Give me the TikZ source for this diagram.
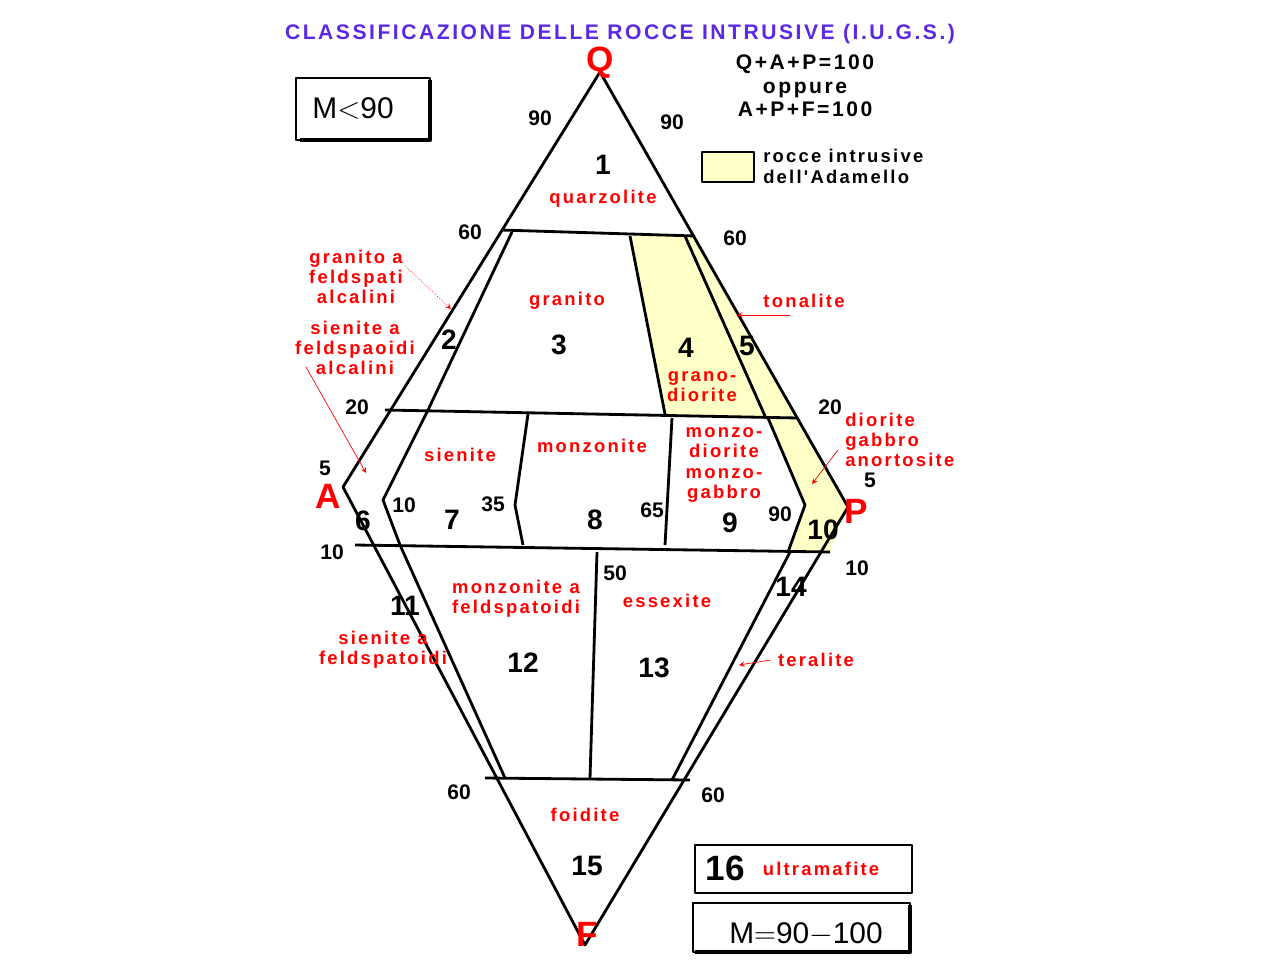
\documentclass[tikz,border=0pt]{standalone}
\usepackage{fontspec}
\setmainfont{Liberation Sans}
\newfontfamily\largo[LetterSpace=12]{Liberation Sans}
\definecolor{giallo}{RGB}{255,255,200}
\definecolor{titolo}{RGB}{90,40,230}
\tikzset{
  lab/.style={text=red,font=\largo\bfseries\fontsize{10.5}{11.5}\selectfont,align=center},
  num/.style={font=\bfseries\fontsize{16}{18}\selectfont},
  tick/.style={font=\bfseries\fontsize{12}{14}\selectfont},
  vtx/.style={text=red,font=\bfseries\fontsize{20}{22}\selectfont},
  freccia/.style={->,red,thin,>=stealth}
}
\begin{document}
\begin{tikzpicture}[x=0.02cm,y=-0.02cm,line width=1.6pt,line join=round]
\useasboundingbox (0,0) rectangle (1280,960);

% vertici
\coordinate (Q) at (600,72);
\coordinate (A) at (343,487);
\coordinate (P) at (848,507);
\coordinate (F) at (585,945);

% campi gialli
\fill[giallo] (630,236)--(695,236)--(798,418)--(665,414)--cycle;
\fill[giallo] (768,418)--(798,418)--(848,505)--(830,552)--(788,552)--(805,505)--cycle;

% contorno
\draw (Q)--(A)--(F)--(P)--cycle;

% linee interne
\draw (501,230)--(695,236);
\draw (512,232)--(428,410)--(383,500)--(400,545)--(505,778);
\draw (630,236)--(665,414);
\draw (685,236)--(765,416);
\draw (385,410)--(798,418);
\draw (528,414)--(515,505)--(523,545);
\draw (672,418)--(665,545);
\draw (768,418)--(805,505)--(788,552);
\draw (355,545)--(830,552);
\draw (597,552)--(590,778);
\draw (485,778)--(690,780);
\draw (790,552)--(672,780);

% titolo
\node[text=titolo,font=\largo\bfseries\fontsize{12}{14}\selectfont] (tit) at (620,34)
  {CLASSIFICAZIONE DELLE ROCCE INTRUSIVE (I.U.G.S.)};

% vertici
\node[vtx] (lQ) at (600,63) {Q};
\node[vtx] (lA) at (328,496) {A};
\node[vtx] (lP) at (856,511) {P};
\node[vtx] (lF) at (587,934) {F};

% riquadri
\draw[line width=1pt] (296,78) rectangle (430,140);
\draw[line width=2.5pt] (300,140)--(430,140)--(430,80);
\node[font=\fontsize{17}{19}\selectfont] (m90) at (353,108) {M$<$90};
\draw[line width=1pt] (695,845) rectangle (912,893);
\node[font=\bfseries\fontsize{20}{22}\selectfont] (n16) at (725,868) {16};
\node[lab] (ultra) at (821,869) {ultramafite};
\draw[line width=1pt] (693,903) rectangle (910,952);
\draw[line width=2.5pt] (910,905)--(910,952)--(695,952);
\node[font=\fontsize{17}{19}\selectfont] (m100) at (806,934) {M$=$90$-$100};
\draw[line width=1pt,fill=giallo] (702,152) rectangle (754,182);
\node[font=\largo\bfseries\fontsize{10.5}{12}\selectfont,align=left,anchor=west] (leg) at (756,166)
  {rocce intrusive\\dell'Adamello};
\node[font=\largo\bfseries\fontsize{12}{13.5}\selectfont,align=center] (somma) at (805,86)
  {Q+A+P=100\\oppure\\A+P+F=100};

% valori
\foreach \t/\x/\y in {90/540/118, 90/672/122, 60/470/232, 60/735/238, 20/357/407,
  20/830/407, 5/325/468, 5/870/480, 10/404/505, 35/493/504, 65/652/510, 90/780/514,
  10/332/552, 10/857/568, 50/615/573, 60/459/792, 60/713/795}
  \node[tick] at (\x,\y) {\t};

% campi
\foreach \t/\x/\y in {1/603/165, 2/449/340, 3/559/345, 4/686/348, 5/747/346,
  6/363/521, 7/452/520, 8/595/520, 9/730/523, 10/823/530, 11/405/606, 12/523/663,
  13/654/668, 14/791/587, 15/587/866}
  \node[num] at (\x,\y) {\t};

% nomi
\node[lab] (qz) at (603,199) {quarzolite};
\node[lab] (gr) at (567,301) {granito};
\node[lab] (gd) at (702,387) {grano-\\diorite};
\node[lab] (ton) at (804,301) {tonalite};
\node[lab] (gfa) at (356,277) {granito a\\feldspati\\alcalini};
\node[lab] (sfa) at (355,348) {sienite a\\feldspaoidi\\alcalini};
\node[lab] (sie) at (460,455) {sienite};
\node[lab] (mon) at (592,446) {monzonite};
\node[lab] (md) at (724,465) {monzo-\\diorite\\monzo-\\gabbro};
\node[lab,align=left,anchor=west] (dga) at (838,440) {diorite\\gabbro\\anortosite};
\node[lab] (mfd) at (516,599) {monzonite a\\feldspatoidi};
\node[lab] (ess) at (667,601) {essexite};
\node[lab] (sfd) at (383,650) {sienite a\\feldspatoidi};
\node[lab] (ter) at (816,660) {teralite};
\node[lab] (foi) at (585,815) {foidite};

% frecce
\coordinate (c2) at (451,309);
\coordinate (c6) at (366,473);
\coordinate (c5) at (737,315);
\coordinate (c10) at (812,484);
\coordinate (c14) at (739,665);
\draw[freccia,densely dotted] (405,266) -- (c2);
\draw[freccia] (306,367) -- (c6);
\draw[freccia] (790,315) -- (c5);
\draw[freccia] (838,450) -- (c10);
\draw[freccia] (ter.west) -- (c14);
\end{tikzpicture}
\end{document}
